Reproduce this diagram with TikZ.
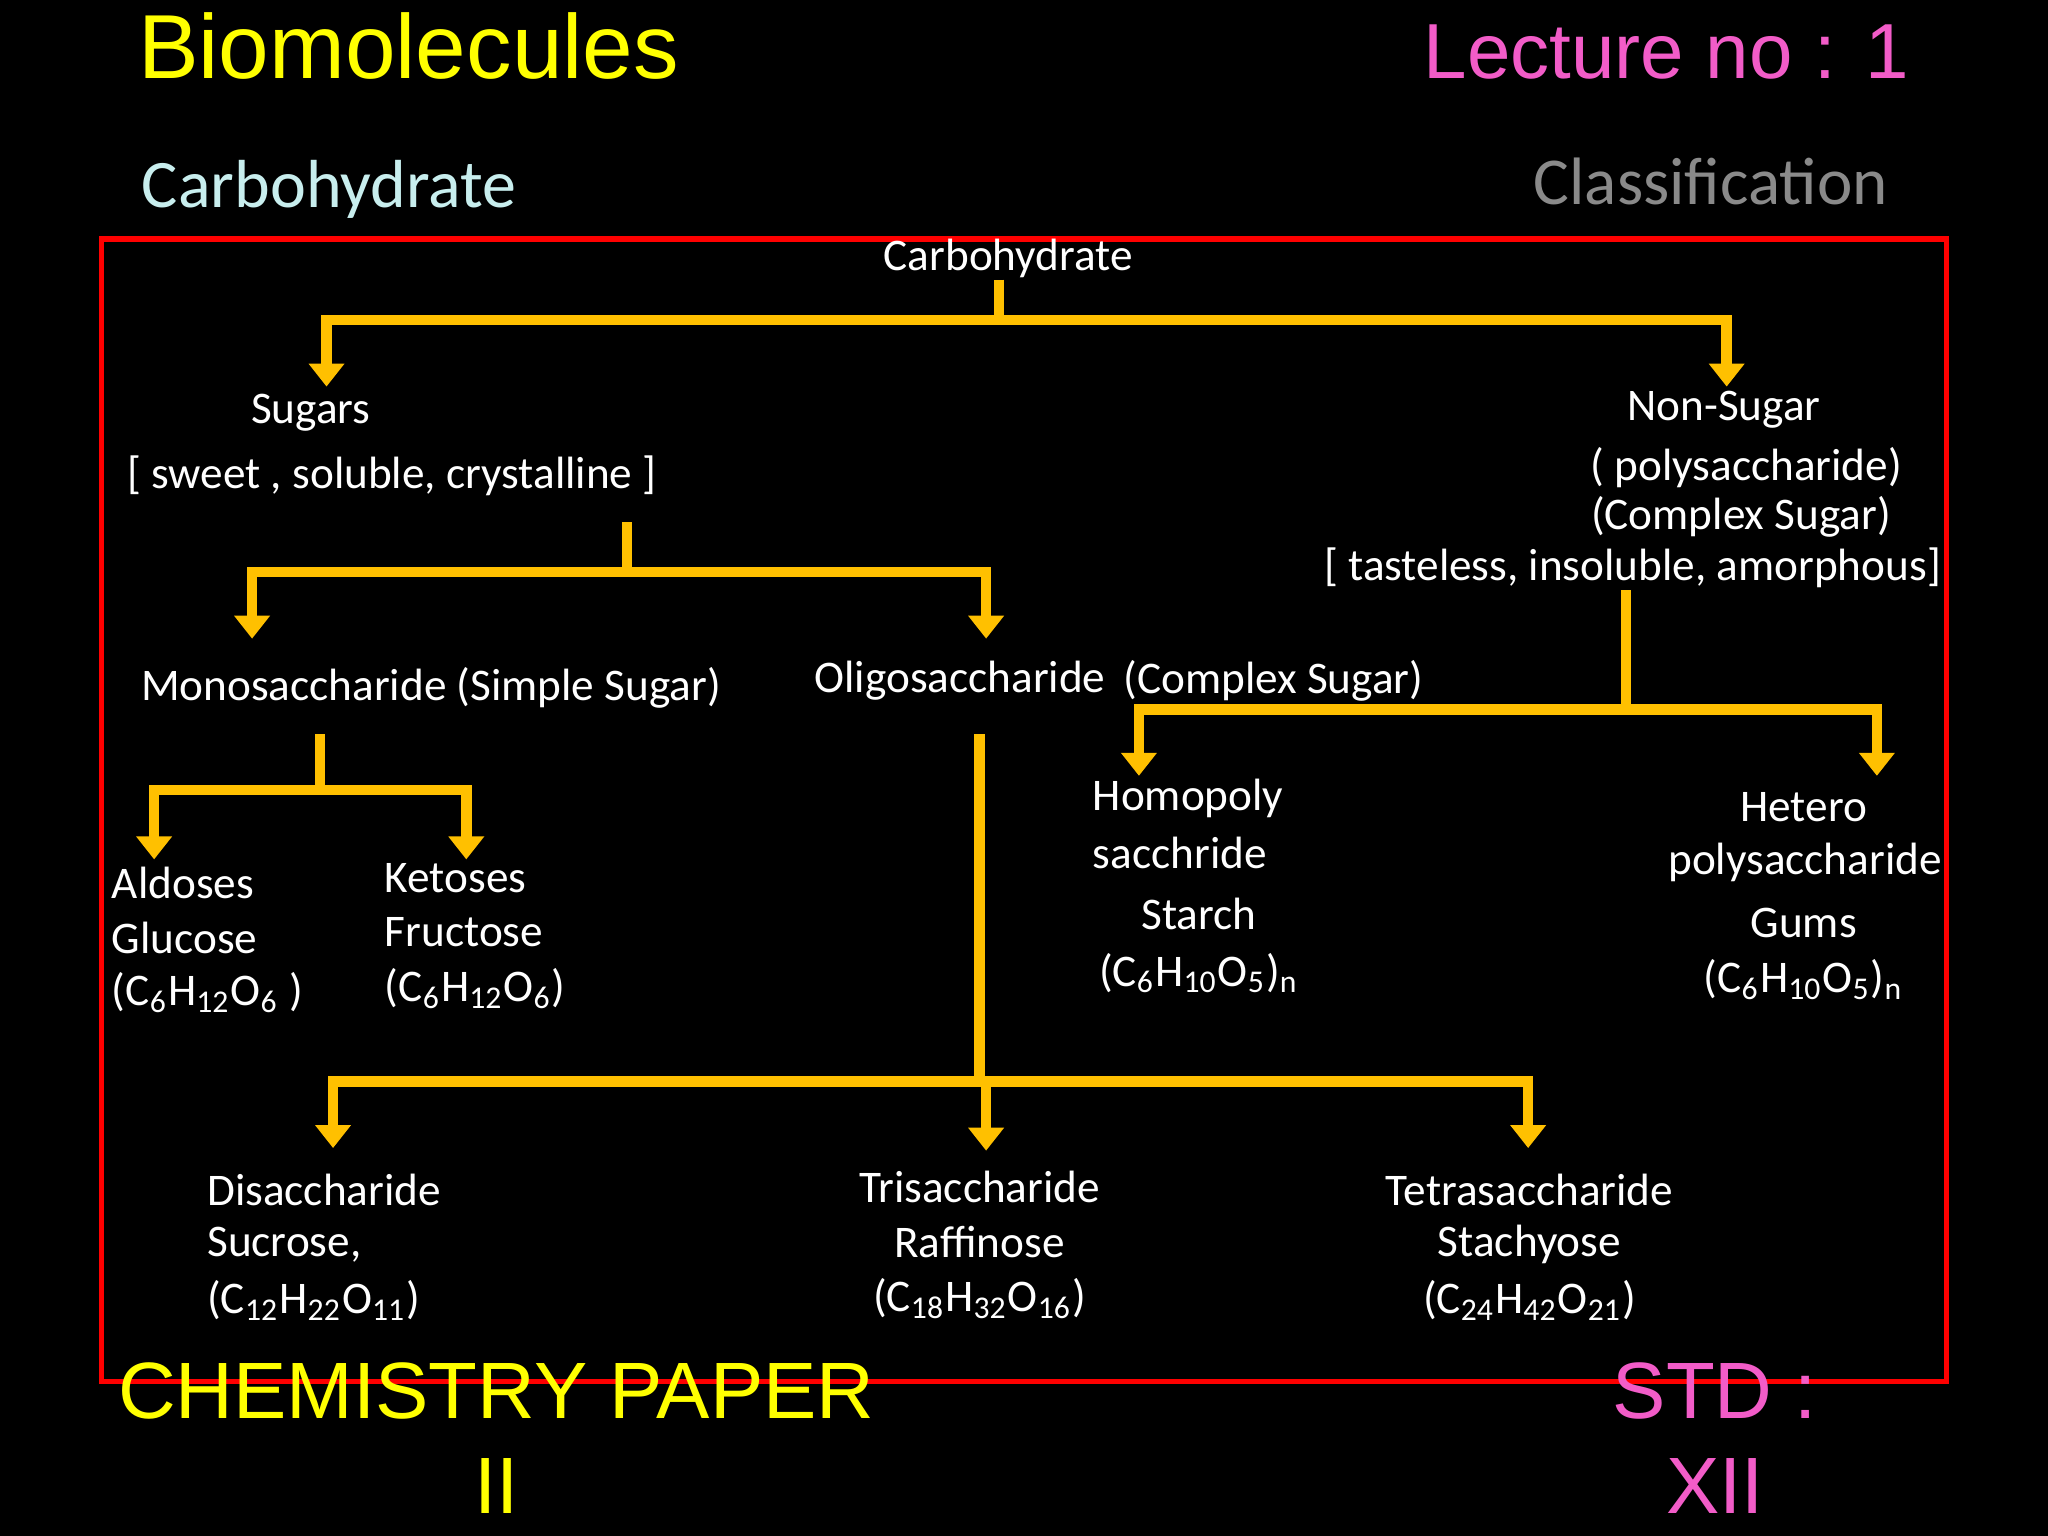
\documentclass[tikz,border=0pt]{standalone}
\usepackage{fontspec}
\setmainfont{Carlito}
\newfontfamily\arialf{Liberation Sans}
\usetikzlibrary{arrows.meta}
\definecolor{gold}{HTML}{FFC000}
\definecolor{pinkc}{HTML}{F25CC8}
\definecolor{yel}{HTML}{FFFF00}
\definecolor{cyanl}{HTML}{C8EEEE}
\definecolor{grayc}{HTML}{8A8A8A}
\newcommand{\sbs}[1]{\textsubscript{#1}}
\begin{document}
\begin{tikzpicture}[x=0.01cm,y=-0.01cm,
  t/.style={text=white,font=\fontsize{9.85}{11}\selectfont,inner sep=0pt},
  tl/.style={t,anchor=west},
  br/.style={draw=gold,line width=2.3pt},
  ar/.style={br,-{Triangle[width=7.5pt,length=5pt]}}]
\fill[black] (0,0) rectangle (1568,1176);
\useasboundingbox (0,0) rectangle (1568,1176);
\draw[red,line width=1.1pt] (78,183) rectangle (1490,1058);
% titles
\node[anchor=west,text=yel,font=\arialf\fontsize{19.8}{22}\selectfont,inner sep=0pt] (ti) at (105,35) {Biomolecules};
\node[anchor=east,text=pinkc,font=\arialf\fontsize{17}{22}\selectfont,inner sep=0pt] (lec) at (1462,40) {Lecture no : 1};
\node[anchor=west,text=cyanl,font=\fontsize{14.8}{17}\selectfont,inner sep=0pt] (sub) at (108,145) {Carbohydrate};
\node[anchor=east,text=grayc,font=\fontsize{14.6}{17}\selectfont,inner sep=0pt] (cl) at (1446,139) {Classification};
\node[text=yel,font=\arialf\fontsize{17.4}{20.5}\selectfont,align=center,inner sep=0pt] (chem) at (380,1101) {CHEMISTRY PAPER\\II};
\node[text=pinkc,font=\arialf\fontsize{17.4}{20.5}\selectfont,align=center,inner sep=0pt] (std) at (1313,1101) {STD :\\XII};
% nodes
\node[t] (carb) at (772,198) {Carbohydrate};
\node[t] (sug) at (238,316) {Sugars};
\node[t] (sug2) at (300,364) {[ sweet , soluble, crystalline ]};
\node[t] (ns) at (1320,314) {Non-Sugar};
\node[t] (ns2) at (1337,358) {( polysaccharide)};
\node[t] (ns3) at (1333,396) {(Complex Sugar)};
\node[t] (ns4) at (1250,435) {[ tasteless, insoluble, amorphous]};
\node[t] (mono) at (330,527) {Monosaccharide (Simple Sugar)};
\node[t] (oligo) at (735,521) {Oligosaccharide};
\node[t] (olc) at (975,521) {(Complex Sugar)};
\node[tl] (ald) at (85,676) {Aldoses};
\node[tl] (glu) at (85,718) {Glucose};
\node[tl] (gluf) at (85,760) {(C\sbs{6}H\sbs{12}O\sbs{6} )};
\node[tl] (ket) at (294,672) {Ketoses};
\node[tl] (fru) at (294,714) {Fructose};
\node[tl] (fruf) at (294,757) {(C\sbs{6}H\sbs{12}O\sbs{6})};
\node[tl] (homo) at (836,611) {Homopoly};
\node[tl] (homo2) at (836,653) {sacchride};
\node[t] (sta) at (918,700) {Starch};
\node[t] (staf) at (918,745) {(C\sbs{6}H\sbs{10}O\sbs{5})\sbs{n}};
\node[t] (het) at (1381,618) {Hetero};
\node[t] (het2) at (1382,660) {polysaccharide};
\node[t] (gum) at (1381,707) {Gums};
\node[t] (gumf) at (1381,750) {(C\sbs{6}H\sbs{10}O\sbs{5})\sbs{n}};
\node[tl] (di) at (158,911) {Disaccharide};
\node[tl] (suc) at (158,953) {Sucrose,};
\node[tl] (sucf) at (158,996) {(C\sbs{12}H\sbs{22}O\sbs{11})};
\node[t] (tri) at (750,909) {Trisaccharide};
\node[t] (raf) at (750,951) {Raffinose};
\node[t] (raff) at (750,994) {(C\sbs{18}H\sbs{32}O\sbs{16})};
\node[t] (tet) at (1171,911) {Tetrasaccharide};
\node[t] (sty) at (1171,953) {Stachyose};
\node[t] (styf) at (1171,996) {(C\sbs{24}H\sbs{42}O\sbs{21})};
% connectors
\coordinate (j1) at (765,245);
\draw[br] (765,214) -- (j1);
\draw[ar] (j1) -| (250,296);
\draw[ar] (j1) -| (1322,296);
\coordinate (j2) at (480,438);
\draw[br] (480,400) -- (j2);
\draw[ar] (j2) -| (193,489);
\draw[ar] (j2) -| (755,489);
\coordinate (j3) at (1245,543);
\draw[br] (1245,452) -- (j3);
\draw[ar] (j3) -| (872,594);
\draw[ar] (j3) -| (1437,594);
\coordinate (j4) at (245,605);
\draw[br] (245,562) -- (j4);
\draw[ar] (j4) -| (118,658);
\draw[ar] (j4) -| (357,658);
\coordinate (j5) at (752,828);
\draw[br] (750,562) -- (750,828);
\draw[ar] (j5) -| (255,879);
\draw[ar] (j5) -| (1170,879);
\draw[ar] (755,826) -- (755,881);
\end{tikzpicture}
\end{document}
